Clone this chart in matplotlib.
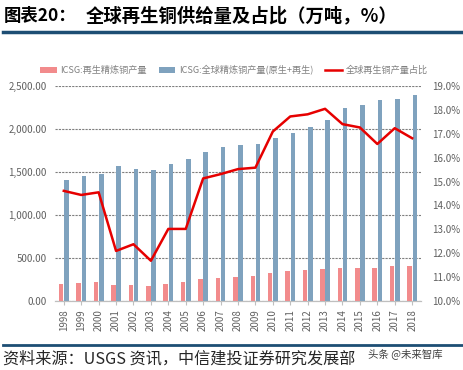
import matplotlib.pyplot as plt
import numpy as np

plt.rcParams['font.family'] = ['Noto Sans CJK SC', 'DejaVu Sans']

years = [str(y) for y in range(1998, 2019)]
recycled = [202, 209, 217, 190, 190, 174, 205, 217, 260, 271, 279, 287,
            326, 345, 357, 376, 391, 391, 384, 403, 403]
total = [1411, 1453, 1473, 1566, 1535, 1527, 1593, 1655, 1729, 1795, 1818, 1829,
         1895, 1953, 2019, 2109, 2244, 2283, 2333, 2353, 2388]
share = [14.61, 14.44, 14.55, 12.10, 12.38, 11.69, 13.02, 13.02, 15.13, 15.31, 15.52, 15.58,
         17.09, 17.72, 17.81, 18.04, 17.40, 17.26, 16.57, 17.23, 16.81]

c_red_bar = '#f28b8c'
c_blue_bar = '#7fa2be'
c_line = '#e60000'
c_dark = '#1d4e74'
c_txt = '#606060'

fig = plt.figure(figsize=(4.63, 3.70), dpi=100)
ax = fig.add_axes([0.119, 0.186, 0.790, 0.582])
ax2 = ax.twinx()

x = np.arange(len(years))
w = 0.26
ax.bar(x - 0.15, recycled, width=w, color=c_red_bar, zorder=3, label='ICSG:再生精炼铜产量')
ax.bar(x + 0.15, total, width=w, color=c_blue_bar, zorder=3, label='ICSG:全球精炼铜产量(原生+再生)')
ax2.plot(x, share, color=c_line, lw=1.8, zorder=4, label='全球再生铜产量占比')

ax.set_xlim(-0.5, len(years) - 0.5)
ax.set_ylim(0, 2500)
ax.set_yticks(np.arange(0, 2501, 500))
ax.set_yticklabels(['{:,.2f}'.format(v) for v in range(0, 2501, 500)])
ax2.set_ylim(10, 19)
ax2.set_yticks(np.arange(10, 19.1, 1))
ax2.set_yticklabels(['{:.1f}%'.format(v) for v in np.arange(10, 19.1, 1)])

ax.set_xticks(x)
ax.set_xticklabels(years, rotation=90)
ax.grid(axis='y', color='#7f7f7f', lw=0.8, ls=(0, (2, 1)), zorder=0)

for a in (ax, ax2):
    for s in ('top', 'left', 'right'):
        a.spines[s].set_visible(False)
    a.spines['bottom'].set_color('#bfbfbf')
    a.tick_params(colors=c_txt, labelsize=7, length=0)
ax.tick_params(axis='x', length=3, color='#bfbfbf', pad=3)
ax.tick_params(axis='y', pad=6)
ax2.tick_params(axis='y', pad=8)

h1, l1 = ax.get_legend_handles_labels()
h2, l2 = ax2.get_legend_handles_labels()
fig.legend(h1 + h2, l1 + l2, loc='center', bbox_to_anchor=(0.505, 0.81), ncol=3,
           frameon=False, fontsize=6.6, labelcolor='#808080', handlelength=1.8,
           handleheight=0.5, columnspacing=1.3, handletextpad=0.4)

fig.text(0.008, 0.958, '图表20：', fontsize=12.5, fontweight='bold', va='center', color='black')
fig.text(0.185, 0.958, '全球再生铜供给量及占比（万吨，%）', fontsize=13.2, fontweight='bold',
         va='center', color='black')
fig.add_artist(plt.Line2D([0.006, 1.0], [0.913, 0.913], color=c_dark, lw=2.5,
                          transform=fig.transFigure))
fig.add_artist(plt.Line2D([0.006, 1.0], [0.068, 0.068], color=c_dark, lw=2,
                          transform=fig.transFigure))
fig.text(0.006, 0.030, '资料来源：USGS 资讯，中信建投证券研究发展部', fontsize=11.6,
         style='italic', va='center', color='#262626')
fig.text(0.795, 0.045, '头条 @未来智库', fontsize=7.5, va='center', color='#404040')

fig.savefig('out.png', dpi=100)
